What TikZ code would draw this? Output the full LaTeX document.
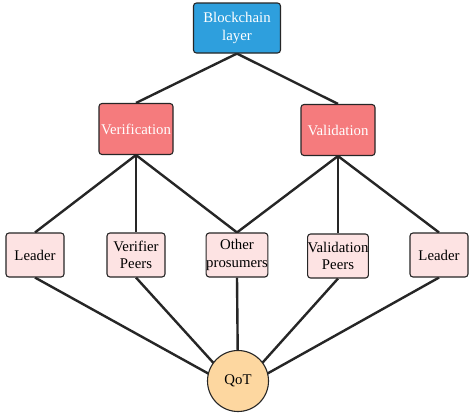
\documentclass[tikz,border=0pt]{standalone}
\usepackage{fontspec}
\setmainfont{Liberation Serif}
\pgfdeclarelayer{background}
\pgfsetlayers{background,main}
\begin{document}
\begin{tikzpicture}[x=1pt,y=-1pt,
  box/.style={draw=black!85, line width=1.1pt, rounded corners=3pt, inner sep=0pt,
    align=center, font=\fontsize{14.8}{17.5}\selectfont},
  topbox/.style={box, fill=blueC, text=white, minimum width=87pt, minimum height=50pt},
  midbox/.style={box, fill=redC, text=white, minimum width=74pt, minimum height=51pt},
  lowbox/.style={box, fill=pinkC, text=black, minimum width=58pt, minimum height=44pt},
  qot/.style={circle, draw=black!85, line width=1.1pt, fill=peachC, minimum size=61pt,
    inner sep=0pt, font=\fontsize{14.8}{17.5}\selectfont},
  link/.style={draw=black!85, line width=2.4pt}]
\definecolor{blueC}{HTML}{2E9FDD}
\definecolor{redC}{HTML}{F57B7D}
\definecolor{pinkC}{HTML}{FDE3E3}
\definecolor{peachC}{HTML}{FDD7A0}
\useasboundingbox (0,0) rectangle (474,413);
% nodes
\node[topbox] (bc) at (237,28) {Blockchain\\layer};
\node[midbox] (vf) at (136,129) {Verification};
\node[midbox] (vl) at (338,130) {Validation};
\node[lowbox] (l1) at (35,255) {Leader};
\node[lowbox] (vp) at (136,255) {Verifier\\Peers};
\node[lowbox] (op) at (237,255) {Other\\prosumers};
\node[lowbox] (vap) at (338,256) {Validation\\Peers};
\node[lowbox] (l2) at (439,255) {Leader};
\node[qot] (q) at (238,381) {QoT};
\coordinate (qh) at (238,390);
% edges
\begin{pgfonlayer}{background}
\fill[white] (0,0) rectangle (474,413);
\draw[link] (bc.south) -- (vf.north);
\draw[link] (bc.south) -- (vl.north);
\draw[link] (vf.south) -- (l1.north);
\draw[link] (vf.south) -- (vp.north);
\draw[link] (vf.south) -- (op.north);
\draw[link] (vl.south) -- (op.north);
\draw[link] (vl.south) -- (vap.north);
\draw[link] (vl.south) -- (l2.north);
\draw[link] (l1.south) -- (qh);
\draw[link] (vp.south) -- (qh);
\draw[link] (op.south) -- (q.center);
\draw[link] (vap.south) -- (qh);
\draw[link] (l2.south) -- (qh);
\end{pgfonlayer}
\end{tikzpicture}
\end{document}
